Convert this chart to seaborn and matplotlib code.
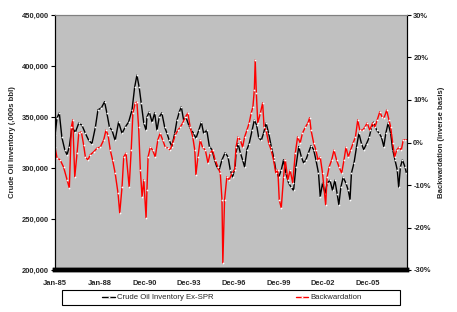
import matplotlib
matplotlib.use("Agg")
import matplotlib.pyplot as plt
import seaborn as sns
import pandas as pd
from matplotlib.ticker import FuncFormatter, FixedLocator
from matplotlib.patches import Rectangle

# ---- data (x = week index from Jan-85) ----
inv_weeks = [0, 7, 15, 24, 34, 42, 50, 59, 71, 83, 94, 106, 118, 129, 141, 150, 162, 173, 181, 190,
             199, 210, 222, 234, 245, 257, 269, 278, 286, 294, 301, 310, 318,
             321, 329, 339, 348, 356, 364, 373, 383, 391, 399, 408, 418, 426, 434, 441, 449, 457, 467,
             476, 484, 492, 502, 511, 519, 530, 539, 548, 557, 565, 573, 583, 594, 604, 612, 620, 629,
             632, 639, 647, 655, 662, 670, 678, 688, 696, 704, 711, 720, 728, 737, 746, 755, 763, 771,
             781, 790, 798, 806, 816, 825, 833, 841, 851, 860, 868, 876, 885, 894, 903, 911, 920, 926,
             934, 943,
             950, 960, 969, 977, 985, 991, 998, 1006, 1016, 1024, 1030, 1035, 1044, 1053, 1061, 1070,
             1078, 1088, 1097, 1105, 1113, 1123, 1132, 1140, 1148, 1155, 1163, 1172, 1179, 1187, 1195,
             1200, 1206, 1213, 1222, 1227]
inv_values = [332, 349, 354, 330, 318, 313, 321, 340, 335, 344, 342, 334, 327, 324, 340, 357, 359, 365, 354, 340,
              337, 327, 345, 334, 340, 345, 357, 379, 391, 379, 364, 344, 337,
              350, 355, 345, 354, 337, 350, 354, 340, 334, 327, 321, 334, 347, 355, 360, 347, 350, 342,
              337, 334, 329, 337, 345, 334, 337, 321, 318, 308, 301, 298, 308, 315, 311, 298, 291, 301,
              315, 324, 315, 308, 301, 318, 324, 337, 347, 342, 330, 327, 334, 344, 334, 321, 311, 298,
              291, 298, 308, 295, 285, 281, 278, 301, 321, 311, 305, 308, 315, 322, 318, 308, 295, 272,
              285, 275,
              285, 288, 278, 288, 275, 264, 281, 291, 285, 278, 269, 295, 305, 321, 334, 324,
              318, 324, 330, 340, 345, 337, 334, 330, 321, 334, 344, 334, 318, 308, 298,
              281, 301, 308, 301, 295]
inv_values = [v * 1000 for v in inv_values]

bw_weeks = [0, 7, 18, 30, 42, 50, 57, 62, 69, 77, 83, 92, 100, 106, 115, 123, 135, 147, 158, 170,
            178, 185, 193, 201, 210, 220, 226, 234, 240, 248, 259, 266, 272, 280, 286, 292, 298, 304,
            310, 318,
            321, 325, 333, 341, 350, 359, 367, 376, 385, 394, 402, 411, 420, 429, 437, 446, 455, 464,
            472, 481, 488, 492, 499, 507, 515, 525, 534, 542, 550, 559, 569, 577, 583, 586, 592, 600,
            608, 618, 627,
            632, 639, 647, 655, 662, 670, 678, 685, 691, 696, 699, 703, 708, 717, 725, 730, 737, 746,
            755, 763, 771, 778, 783, 790, 798, 804, 813, 821, 830, 839, 847, 856, 864, 874, 883, 889,
            894, 903, 911, 918, 926, 934,
            945, 950, 957, 966, 974, 983, 992, 1001, 1009, 1016, 1024, 1032, 1041, 1049, 1057, 1064,
            1074, 1082, 1090, 1099, 1109, 1117, 1125, 1134, 1142, 1149, 1158, 1166, 1172, 1179, 1186,
            1193, 1201, 1209, 1216, 1223, 1229]
bw_values = [-1.1, -3.6, -4.1, -5.8, -8.8, -10.7, 3.6, 5.3, -8.1, -2.5, 2.2, 2.5, -0.6, -3.4, -4.1, -2.9,
             -2.2, -1.3, -1.1, 0.6, 2.9, 1.8, -1.8, -4.1, -7.2, -11.9, -16.6, -10.5, -3.4, -2.5, -10.5,
             -1.8, 6.9, 9.3, 9.5, 3.6, -6.5, -12.8, -8.8, -17.8,
             -11.2, -3.4, -1.1, -1.8, -3.4, 0.6, 2.2, 0.6, -1.1, -1.3, -1.8, -0.1, 1.8, 2.9, 3.6, 4.6,
             6.0, 6.9, 3.6, 1.3, -1.8, -7.6, -3.4, 0.6, -1.1, -1.8, -4.8, -2.5, -1.8, -4.1, -5.8, -7.2,
             -13.5, -28.4, -13.5, -8.1, -8.8, -7.2, -6.5,
             -1.1, 1.3, 0.6, -1.1, 1.3, 2.9, 4.6, 6.9, 8.4, 12.4, 19.4, 11.6, 4.6, 6.9, 9.3, 3.6, 2.9,
             -0.1, -1.8, -4.1, -7.2, -6.5, -13.5, -15.4, -8.1, -4.1, -8.8, -6.5, -9.5, -2.5, 1.3, -0.1,
             2.2, 3.6, 4.6, 5.8, 2.9, -0.1, -1.8, -4.1, -3.4, -7.2,
             -14.7, -8.1, -5.8, -4.1, -1.8, -4.1, -5.8, -7.2, -4.1, -1.1, -3.4, -1.8, -0.1, 1.3, 5.3, 2.9,
             2.9, 3.6, 4.6, 2.9, 4.6, 3.6, 5.3, 7.2, 6.0, 5.8, 7.6, 5.3, 3.6, -0.1, -3.4, -1.8, -1.1,
             -1.8, 0.6, 0.6, 0.6]
bw_values = [v / 100 for v in bw_values]

tick_weeks = [0, 156, 312, 468, 624, 780, 936, 1092]
tick_labels = ["Jan-85", "Jan-88", "Dec-90", "Dec-93", "Dec-96", "Dec-99", "Dec-02", "Dec-05"]

inv_label = "Crude Oil Inventory Ex-SPR"
bw_label = "Backwardation"
left_title = "Crude Oil Inventory (,000s bbl)"
right_title = "Backwardation (inverse basis)"

# ---- plotting ----
sns.set_theme(style="white")
plt.rcParams['font.family'] = ['Liberation Sans', 'DejaVu Sans']

inv_df = pd.DataFrame({"week": inv_weeks, "value": inv_values})
bw_df = pd.DataFrame({"week": bw_weeks, "value": bw_values})

fig = plt.figure(figsize=(4.57, 3.12), dpi=100)
fig.patch.set_facecolor("white")
ax = fig.add_axes([55 / 457, 1 - 270 / 312, 352 / 457, 255 / 312])
ax.set_facecolor("#C0C0C0")

sns.lineplot(data=inv_df, x="week", y="value", ax=ax, color="black", linewidth=1.0,
             marker="+", markersize=2, markeredgewidth=0.5, label=inv_label, legend=False)
ax2 = ax.twinx()
sns.lineplot(data=bw_df, x="week", y="value", ax=ax2, color="#FF0000", linewidth=1.0,
             marker="+", markersize=2, markeredgewidth=0.5, label=bw_label, legend=False)

ax.set_xlim(0, 1229)
ax.set_ylim(200000, 450000)
ax2.set_ylim(-0.30, 0.30)
ax.set_yticks([200000, 250000, 300000, 350000, 400000, 450000])
ax2.set_yticks([-0.3, -0.2, -0.1, 0.0, 0.1, 0.2, 0.3])
ax.yaxis.set_major_formatter(FuncFormatter(lambda v, p: f"{int(round(v)):,}"))
ax2.yaxis.set_major_formatter(FuncFormatter(lambda v, p: f"{v * 100:.0f}%"))
ax.xaxis.set_major_locator(FixedLocator(tick_weeks))
ax.set_xticklabels(tick_labels)

for lab in ax.get_yticklabels() + ax2.get_yticklabels() + ax.get_xticklabels():
    lab.set_fontsize(5.4)
    lab.set_fontweight("bold")

ax.tick_params(axis="y", which="major", direction="out", length=3, width=0.8, color="black",
               pad=1.5, left=True)
ax2.tick_params(axis="y", which="major", direction="out", length=3, width=0.8, color="black",
                pad=1.5, right=True)
ax.tick_params(axis="x", length=0, pad=7)

ax.set_xlabel("")
ax.set_ylabel(left_title, fontsize=5.6, fontweight="bold", labelpad=4)
ax2.set_ylabel(right_title, fontsize=5.6, fontweight="bold", labelpad=5)

for a in (ax, ax2):
    a.spines["top"].set_color("#808080")
    a.spines["top"].set_linewidth(0.8)
    a.spines["left"].set_color("black")
    a.spines["left"].set_linewidth(0.8)
    a.spines["right"].set_color("black")
    a.spines["right"].set_linewidth(0.8)
    a.spines["bottom"].set_color("black")
    a.spines["bottom"].set_linewidth(3.2)

# legend box
fig.patches.append(Rectangle((62 / 457, 1 - 305 / 312), 338 / 457, 15 / 312,
                             transform=fig.transFigure, facecolor="white",
                             edgecolor="black", linewidth=0.8, zorder=1))
h1, l1 = ax.get_legend_handles_labels()
h2, l2 = ax2.get_legend_handles_labels()
leg = fig.legend(h1 + h2, l1 + l2, loc="center",
                 bbox_to_anchor=(232 / 457, 1 - 297.5 / 312),
                 ncol=2, fontsize=5.6, frameon=False, handlelength=1.6,
                 handletextpad=0.3, columnspacing=10.5, borderpad=0, borderaxespad=0)

fig.savefig("out.png", dpi=100, facecolor="white")
